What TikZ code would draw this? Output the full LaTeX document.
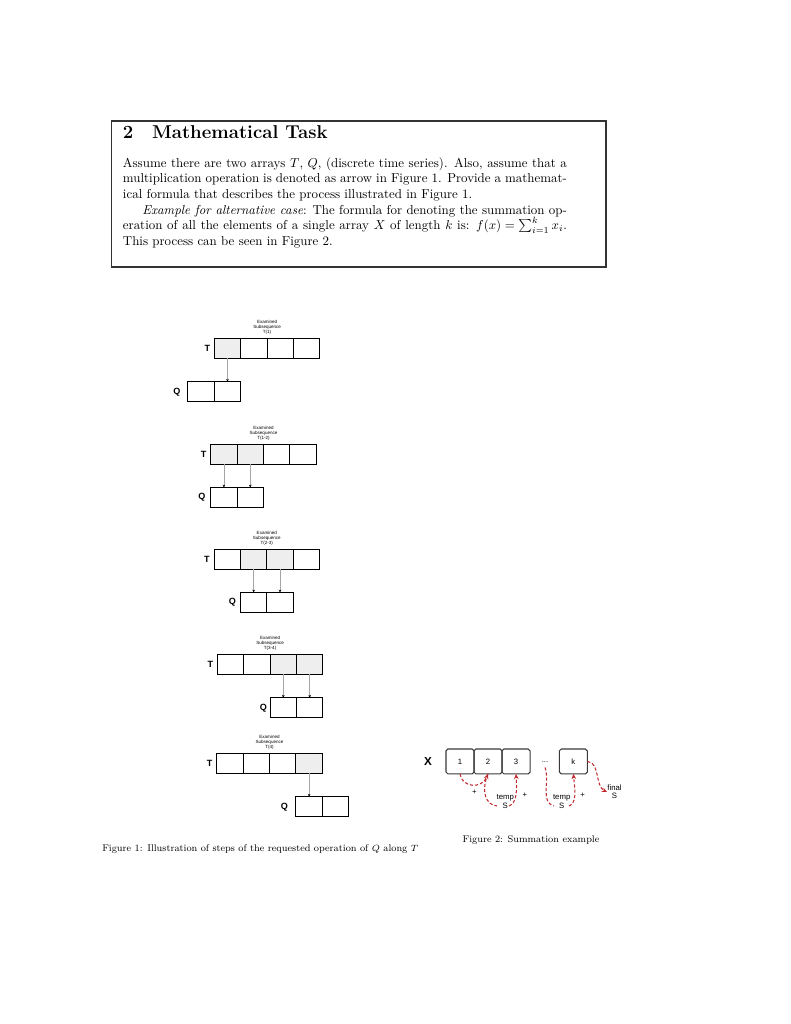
\documentclass[tikz,border=0pt]{standalone}
\usepackage{fontspec}
\newfontfamily\arialf{Liberation Sans}
\usetikzlibrary{arrows.meta}
\definecolor{rd}{HTML}{C0282D}
\definecolor{cellgray}{HTML}{EEEEEE}
\definecolor{boxgray}{HTML}{3A3A3A}
\tikzset{
  cell/.style={draw=black, line width=0.75pt, minimum width=20.43pt, minimum height=15.47pt,
    inner sep=0pt, outer sep=0pt, anchor=north west},
  tlab/.style={font=\arialf\bfseries\fontsize{7}{8}\selectfont, inner sep=0pt},
  sublab/.style={font=\arialf\fontsize{3.5}{3.8}\selectfont, align=center, inner sep=0pt},
  farr/.style={draw=gray!70, line width=0.4pt, -{Stealth[length=2.2pt,width=2pt,color=black]}},
  xbox/.style={draw=boxgray, line width=0.8pt, rounded corners=1.5pt, minimum width=21.7pt,
    minimum height=19.3pt, inner sep=0pt, outer sep=0pt, anchor=north west,
    font=\arialf\fontsize{6}{7}\selectfont},
  ftxt/.style={font=\arialf\fontsize{6}{6.5}\selectfont, align=center, inner sep=0pt},
  rdash/.style={draw=rd, line width=0.8pt, dash pattern=on 2.4pt off 1.6pt},
  rarr/.style={rdash, -{Stealth[length=4pt,width=3.6pt]}},
  bodyline/.style={anchor=base west, inner sep=0pt, font=\fontsize{10}{12}\selectfont},
  capt/.style={inner sep=0pt, font=\fontsize{7.5}{9}\selectfont}
}
% #1 id, #2 T left x, #3 T top y, #4 Q shift in cells, #5 subsequence label, #6 Q label offset
\newcommand\mypanel[6]{%
  \foreach \i in {1,...,4}{%
    \pgfmathtruncatemacro\rel{\i-(#4)}%
    \def\cf{white}%
    \ifnum\rel>0 \ifnum\rel<3 \def\cf{cellgray}\fi\fi
    \node[cell,fill=\cf] (#1t\i) at ({#2+(\i-1)*26.4},#3) {};
  }%
  \foreach \j in {1,2}{%
    \node[cell,fill=white] (#1q\j) at ({#2+((#4)+\j-1)*26.4},{#3+43.5}) {};
    \pgfmathtruncatemacro\ti{(#4)+\j}%
    \ifnum\ti>0 \ifnum\ti<5 \draw[farr] (#1t\ti.south) -- (#1q\j.north);\fi\fi
  }%
  \node[tlab] (#1T) at ({#2-7},{#3+10}) {T};
  \node[tlab] (#1Q) at ({#2+(#4)*26.4-(#6)},{#3+53.5}) {Q};
  \node[sublab] (#1lab) at ({#2+52.8},{#3-11}) {Examined\\Subsequence\\#5};
}
\begin{document}
\begin{tikzpicture}[x=0.7737pt, y=-0.7737pt]
\fill[white] (0,0) rectangle (791,1024);
\useasboundingbox (0,0) rectangle (791,1024);

% ---- framed task text ----
\draw[draw=black!80, line width=1.1pt] (111.5,121) rectangle (606,267);
\node[anchor=base west, inner sep=0pt, font=\fontsize{14.4}{18}\bfseries\selectfont] (head) at (122.7,138.7)
  {2\hspace{14.4pt}Mathematical Task};
\node[bodyline] (l1) at (122.7,167) {\hbox to 343.5pt{Assume there are two arrays $T$, $Q$, (discrete time series). Also, assume that a}};
\node[bodyline] (l2) at (122.7,182.5) {\hbox to 343.5pt{multiplication operation is denoted as arrow in Figure 1. Provide a mathemat-}};
\node[bodyline] (l3) at (122.7,198) {ical formula that describes the process illustrated in Figure 1.};
\node[bodyline] (l4) at (142.1,214) {\hbox to 328.5pt{\textit{Example for alternative case}: The formula for denoting the summation op-}};
\node[bodyline] (l5) at (122.7,229.5) {\hbox to 343.5pt{eration of all the elements of a single array $X$ of length $k$ is: \smash{$f(x)=\sum_{i=1}^{k}x_i$}.}};
\node[bodyline] (l6) at (122.7,245) {This process can be seen in Figure 2.};

% ---- Figure 1 panels ----
\mypanel{a}{214.3}{338.3}{-1}{T(1)}{11}
\mypanel{b}{210.7}{444}{0}{T(1-2)}{8.7}
\mypanel{c}{214}{549}{1}{T(2-3)}{8}
\mypanel{d}{217.3}{654.3}{2}{T(3-4)}{6.7}
\mypanel{e}{216.7}{753.3}{3}{T(4)}{11.5}

\node[capt, anchor=base west] (cap1) at (102,851)
  {Figure 1: Illustration of steps of the requested operation of $Q$ along $T$};

% ---- Figure 2 ----
\node[font=\arialf\bfseries\fontsize{9}{10}\selectfont, inner sep=0pt] (X) at (428,761.5) {X};
\node[xbox] (x1) at (446,749) {1};
\node[xbox] (x2) at (474,749) {2};
\node[xbox] (x3) at (502,749) {3};
\node[ftxt] (dots) at (545,762.5) {...};
\node[xbox] (xk) at (559.3,749) {k};

\node[ftxt] (ts1) at (505.3,801.5) {temp\\S};
\node[ftxt] (ts2) at (561.7,801.5) {temp\\S};
\node[ftxt] (fs) at (614.5,791.5) {final\\S};
\node[ftxt] (p1) at (474.3,792.3) {+};
\node[ftxt] (p2) at (525,795) {+};
\node[ftxt] (p3) at (582.7,795) {+};

\draw[rarr] (x1.south) .. controls (462,788) and (482,789) .. (x2.south);
\draw[rdash] (x2.south) .. controls (481,790) and (485,805) .. (497,806);
\draw[rarr] (509,806) .. controls (517,803) and (517,790) .. (x3.south);
\draw[rdash] (dots.south) ++(0,4) .. controls (550,782) and (540,802) .. (554,806);
\draw[rarr] (569,806) .. controls (577,803) and (575,790) .. (xk.south);
\draw[rarr] (xk.east) .. controls (600,762) and (595,786) .. (607,792);

\node[capt] (cap2) at (531,840) {Figure 2: Summation example};
\end{tikzpicture}
\end{document}
